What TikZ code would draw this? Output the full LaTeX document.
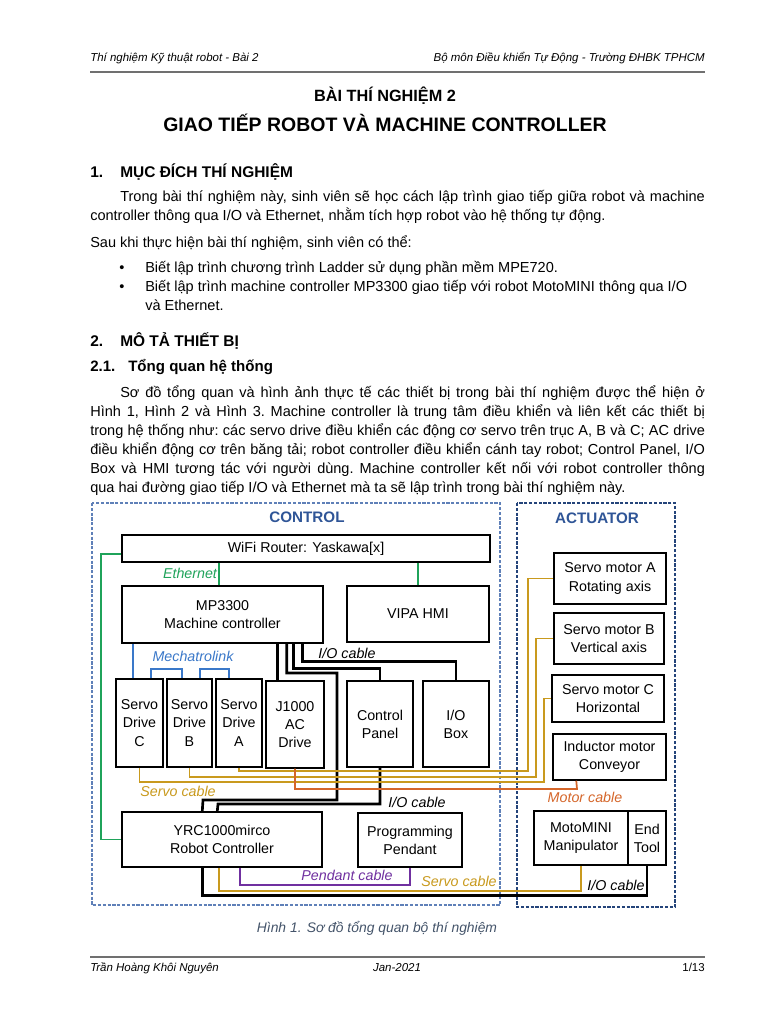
\documentclass[tikz,border=0pt]{standalone}
\usepackage{fontspec}
\setmainfont{Liberation Sans}
\usetikzlibrary{positioning,calc}
\definecolor{ctlFrame}{HTML}{5F80B8}
\definecolor{actFrame}{HTML}{24447A}
\definecolor{grpTitle}{HTML}{2F5597}
\definecolor{ethGreen}{HTML}{1FA35A}
\definecolor{mechBlue}{HTML}{3A78C9}
\definecolor{servoGold}{HTML}{C99A1E}
\definecolor{motorOrange}{HTML}{D5662A}
\definecolor{pendPurple}{HTML}{7030A0}
\definecolor{ruleGrey}{HTML}{707070}
\definecolor{capGrey}{HTML}{44546A}
\newcommand{\bodyfont}{\fontsize{10.9}{14.2}\selectfont\frenchspacing\hyphenpenalty=10000 }
\newcommand{\unitfont}{\fontsize{10.7}{13.6}\selectfont}
\tikzset{
  devbox/.style 2 args={draw, line width=1.1pt, fill=white, align=center,
    inner sep=1pt, minimum width=#1, minimum height=#2, font=\unitfont},
  grpframe/.style={draw=#1, line width=0.8pt, dash pattern=on 2.4pt off 1.2pt},
  grouptitle/.style={font=\fontsize{11.4}{13}\selectfont\bfseries, text=grpTitle},
  para/.style={text width=461pt, align=justify, inner sep=0pt, anchor=north west, font=\bodyfont},
  txt/.style={inner sep=0pt, anchor=base west, font=\bodyfont},
  heading/.style={inner sep=0pt, anchor=base west, font=\fontsize{11.6}{14}\selectfont\bfseries},
  hdr/.style={inner sep=0pt, font=\fontsize{8.6}{10}\selectfont\itshape},
  iocab/.style={draw=black, line width=2pt},
  ethcab/.style={draw=ethGreen, line width=1.3pt},
  mechcab/.style={draw=mechBlue, line width=1.2pt},
  servocab/.style={draw=servoGold, line width=1.3pt},
  motorcab/.style={draw=motorOrange, line width=1.3pt},
  pendcab/.style={draw=pendPurple, line width=1.6pt},
  cablab/.style={inner sep=0pt, font=\unitfont\itshape, text=#1},
  cablab/.default=black,
}

\begin{document}
\begin{tikzpicture}[x=0.75pt, y=-0.75pt]
\useasboundingbox (0,0) rectangle (768,1024);
\fill[white] (0,0) rectangle (768,1024);

% ---- page header
\node[hdr, anchor=base west] (hdrL) at (90,62) {Thí nghiệm Kỹ thuật robot - Bài 2};
\node[hdr, anchor=base east] (hdrR) at (705,62) {Bộ môn Điều khiển Tự Động - Trường ĐHBK TPHCM};
\draw[ruleGrey, line width=1.1pt] (90,72) -- (705,72);

% ---- titles
\node[inner sep=0pt, anchor=base, font=\fontsize{12.2}{14}\selectfont\bfseries] (ttl1) at (385,102) {BÀI THÍ NGHIỆM 2};
\node[inner sep=0pt, anchor=base, font=\fontsize{14.6}{17}\selectfont\bfseries] (ttl2) at (385,132) {GIAO TIẾP ROBOT VÀ MACHINE CONTROLLER};

% ---- section 1
\node[heading] (h1n) at (90,177) {1.};
\node[heading] (h1) at (120,177) {MỤC ĐÍCH THÍ NGHIỆM};
\node[para] (intro) at (90,188) {\strut\hspace*{22.5pt}Trong bài thí nghiệm này, sinh viên sẽ học cách lập trình giao tiếp giữa robot và machine\linebreak
  controller thông qua I/O và Ethernet, nhằm tích hợp robot vào hệ thống tự động.};
\node[txt] (after) at (90,247) {Sau khi thực hiện bài thí nghiệm, sinh viên có thể:};
\node[txt] (b1) at (119,272) {•};
\node[txt] (it1) at (145,272) {Biết lập trình chương trình Ladder sử dụng phần mềm MPE720.};
\node[txt] (b2) at (119,291) {•};
\node[inner sep=0pt, anchor=north west, align=left, font=\bodyfont] (it2) at (145,278)
  {\strut Biết lập trình machine controller MP3300 giao tiếp với robot MotoMINI thông qua I/O\\ và Ethernet.};

% ---- section 2
\node[heading] (h2n) at (90,346) {2.};
\node[heading] (h2) at (120,346) {MÔ TẢ THIẾT BỊ};
\node[heading, font=\fontsize{11.3}{14}\selectfont\bfseries] (h21n) at (90,371) {2.1.};
\node[heading, font=\fontsize{11.3}{14}\selectfont\bfseries] (h21) at (128,371) {Tổng quan hệ thống};
\node[para] (overview) at (90,384) {\strut\hspace*{22.5pt}Sơ đồ tổng quan và hình ảnh thực tế các thiết bị trong bài thí nghiệm được thể hiện ở\linebreak
  Hình 1, Hình 2 và Hình 3. Machine controller là trung tâm điều khiển và liên kết các thiết bị\linebreak
  trong hệ thống như: các servo drive điều khiển các động cơ servo trên trục A, B và C; AC drive\linebreak
  điều khiển động cơ trên băng tải; robot controller điều khiển cánh tay robot; Control Panel, I/O\linebreak
  Box và HMI tương tác với người dùng. Machine controller kết nối với robot controller thông\linebreak
  qua hai đường giao tiếp I/O và Ethernet mà ta sẽ lập trình trong bài thí nghiệm này.};

% ---- the two groups
\draw[grpframe=ctlFrame] (92,503) rectangle (500,905);
\draw[grpframe=actFrame, line width=1pt] (517,503) rectangle (675,907);
\node[grouptitle] (ttlCtl) at (307,517) {CONTROL};
\node[grouptitle] (ttlAct) at (597,518) {ACTUATOR};

% ---- control side
\node[devbox={276pt}{20.25pt}] (router) at (306,548.5) {WiFi Router: Yaskawa[x]};
\node[devbox={150.75pt}{42.75pt}] (mp) at (222.5,614.5) {MP3300\\Machine controller};
\node[devbox={106.5pt}{42pt}] (hmi) at (418,614) {VIPA HMI};
\node[devbox={35.25pt}{66pt}] (sdC) at (139.5,723) {Servo\\Drive\\C};
\node[devbox={33.75pt}{66pt}] (sdB) at (189.5,723) {Servo\\Drive\\B};
\node[devbox={34.5pt}{66pt}] (sdA) at (239,723) {Servo\\Drive\\A};
\node[devbox={43.5pt}{65.25pt}] (acd) at (295,724.5) {J1000\\AC\\Drive};
\node[devbox={49.5pt}{64.5pt}] (panel) at (380,724) {Control\\Panel};
\node[devbox={49.5pt}{64.5pt}] (iobox) at (456,724) {I/O\\Box};
\node[devbox={150pt}{41.25pt}] (yrc) at (222,839.5) {YRC1000mirco\\Robot Controller};
\node[devbox={78pt}{40.5pt}] (tp) at (410,840) {Programming\\Pendant};

% ---- actuator side
\node[devbox={84pt}{38.25pt}] (motA) at (610,578.5) {Servo motor A\\Rotating axis};
\node[devbox={82.5pt}{38.25pt}] (motB) at (609,638.5) {Servo motor B\\Vertical axis};
\node[devbox={84pt}{35.25pt}] (motC) at (608,698.5) {Servo motor C\\Horizontal};
\node[devbox={84.75pt}{34.5pt}] (conv) at (609.5,757) {Inductor motor\\Conveyor};
\node[devbox={70.5pt}{40.5pt}] (moto) at (581,838) {MotoMINI\\Manipulator};
\node[devbox={28.5pt}{40.5pt}] (tool) at (647,838) {End\\Tool};

% ---- ethernet
\draw[ethcab] ($(router.south west)+(0,-9)$) -| ($(yrc.west)+(-20,0)$) -- (yrc.west);
\draw[ethcab] ($(mp.north west)+(98,0)$) coordinate (e1) -- (e1 |- router.south);
\draw[ethcab] (hmi.north) -- (hmi.north |- router.south);

% ---- mechatrolink
\draw[mechcab] ($(sdC.north)+(-6.5,0)$) coordinate (m1) -- (m1 |- mp.south);
\draw[mechcab, line width=1.7pt] ($(sdC.north)+(11.5,0)$) -- ++(0,-9) -| ($(sdB.north)+(-7.5,0)$);
\draw[mechcab, line width=1.7pt] ($(sdB.north)+(10.5,0)$) -- ++(0,-9) -| ($(sdA.north)+(-10,0)$);

% ---- I/O cables
\draw[iocab] ($(mp.south east)+(-46,0)$) coordinate (k1) -- (k1 |- acd.north);
\draw[iocab] ($(mp.south east)+(-37,0)$) |- (337,673) |- (203,800) -- ($(yrc.north west)+(81,0)$);
\draw[iocab] ($(mp.south east)+(-30,0)$) |- ($(panel.north)+(0,-12)$) -- (panel.north);
\draw[iocab] ($(mp.south east)+(-21,0)$) |- ($(iobox.north)+(0,-19)$) -- (iobox.north);
\draw[iocab] (panel.south) |- (218,804) -- ($(yrc.north west)+(96,0)$);
\draw[iocab] ($(yrc.south west)+(81,0)$) |- ($(tool.south)+(0,30)$) -- (tool.south);

% ---- servo / motor / pendant cables
\draw[servocab] (sdA.south) |- (528,771) |- (motA.west);
\draw[servocab] (sdB.south) |- (536,777) |- (motB.west);
\draw[servocab] (sdC.south) |- (544,782) |- (motC.west);
\draw[motorcab] (acd.south) |- (577,789) -- ($(conv.south west)+(24,0)$);
\draw[servocab] ($(yrc.south west)+(98,0)$) |- ($(moto.south)+(0,25)$) -- (moto.south);
\draw[pendcab] ($(yrc.south west)+(119,0)$) |- ($(tp.south)+(0,17)$) -- (tp.south);

% ---- cable names
\node[cablab=ethGreen] (lEth) at (190,573) {Ethernet};
\node[cablab=mechBlue] (lMech) at (193,656) {Mechatrolink};
\node[cablab] (lIo1) at (347,653) {I/O cable};
\node[cablab=servoGold] (lServo1) at (178,791) {Servo cable};
\node[cablab] (lIo2) at (417,802) {I/O cable};
\node[cablab=motorOrange] (lMotor) at (585,797) {Motor cable};
\node[cablab=pendPurple] (lPend) at (347,875) {Pendant cable};
\node[cablab=servoGold] (lServo2) at (459,881) {Servo cable};
\node[cablab] (lIo3) at (616,885) {I/O cable};

% ---- caption and footer
\node[inner sep=0pt, anchor=base, font=\fontsize{10.4}{12}\selectfont\itshape, text=capGrey] (cap) at (377,932) {Hình 1. Sơ đồ tổng quan bộ thí nghiệm};
\draw[ruleGrey, line width=1.1pt] (90,957) -- (705,957);
\node[hdr, anchor=base west] (ftL) at (90,971) {Trần Hoàng Khôi Nguyên};
\node[hdr, anchor=base] (ftC) at (397,971) {Jan-2021};
\node[hdr, anchor=base east, font=\fontsize{8.6}{10}\selectfont] (ftR) at (705,971) {1/13};

\end{tikzpicture}
\end{document}
